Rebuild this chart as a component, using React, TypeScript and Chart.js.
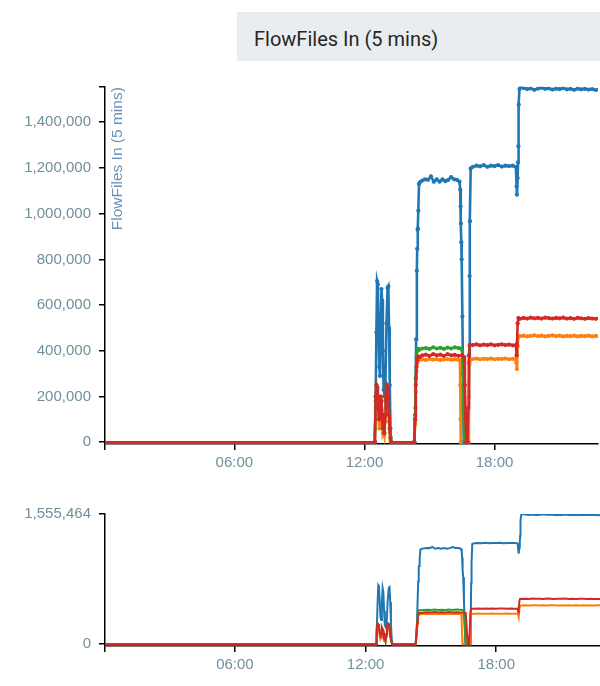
import { useEffect, useRef } from 'react';
import { Chart, registerables } from 'chart.js';

Chart.register(...registerables);

const CHART_TITLE = 'FlowFiles In (5 mins)';
const Y_MAX = 1555464;
const X_MIN = 2; // minutes since 00:00
const X_MAX = 1366;

const timeTickValues = [360, 720, 1080];
const timeTickLabels = ['06:00', '12:00', '18:00'];
const mainYTicks = [0, 200000, 400000, 600000, 800000, 1000000, 1200000, 1400000];
const overviewYTicks = [0, Y_MAX];

// [minute of day, flowfiles in last 5 mins]
const blueSeries: [number, number][] = [
  [0, 0], [748, 0], [751, 180000], [753, 480000], [755, 705000], [757, 690000], [759, 520000], [761, 330000],
  [763, 290000], [765, 480000], [767, 670000], [769, 620000], [771, 400000], [773, 230000], [776, 200000],
  [778, 260000], [781, 520000], [784, 675000], [786, 682000], [788, 500000], [790, 250000], [792, 60000], [794, 0],
  [858, 0], [861, 150000], [863, 450000], [865, 750000], [866, 846000], [867, 930000], [868, 935000],
  [869, 1013000], [871, 1130000],
  [874, 1138000], [880, 1145000], [888, 1150000], [896, 1148000], [904, 1163000], [912, 1140000], [920, 1150000],
  [928, 1140000], [936, 1150000], [944, 1142000], [952, 1148000], [960, 1160000], [968, 1150000], [976, 1148000],
  [983, 1140000],
  [985, 1105000], [986, 1032000], [987, 957000], [988, 875000], [989, 800000], [991, 550000], [993, 250000], [995, 0],
  [1008, 0], [1010, 350000], [1011, 727000], [1012, 967000], [1014, 1198000],
  [1020, 1205000], [1030, 1210000], [1040, 1207000], [1050, 1212000], [1060, 1205000], [1070, 1210000],
  [1080, 1208000], [1090, 1212000], [1100, 1206000], [1110, 1210000], [1120, 1208000], [1130, 1210000], [1139, 1205000],
  [1141, 1120000], [1142, 1083000], [1144, 1156000], [1145, 1225000], [1146, 1295000], [1147, 1477000], [1149, 1545000],
  [1152, 1555000], [1160, 1550000], [1170, 1545000], [1180, 1548000], [1190, 1542000], [1200, 1547000], [1210, 1551000],
  [1220, 1546000], [1230, 1548000], [1240, 1543000], [1250, 1547000], [1260, 1545000], [1270, 1549000],
  [1280, 1544000], [1290, 1546000], [1300, 1542000], [1310, 1547000], [1320, 1544000], [1330, 1546000],
  [1340, 1543000], [1350, 1545000], [1360, 1541000], [1370, 1544000],
];

const redSeries: [number, number][] = [
  [0, 0], [749, 0], [751, 200000], [753, 250000], [755, 240000], [757, 200000], [759, 150000], [761, 100000],
  [763, 120000], [765, 200000], [767, 180000], [769, 120000], [771, 60000], [773, 80000], [775, 40000],
  [777, 120000], [779, 200000], [781, 250000], [784, 240000], [786, 200000], [788, 120000], [790, 60000],
  [792, 20000], [794, 0],
  [858, 0], [860, 100000], [862, 250000], [864, 330000], [866, 360000], [869, 375000],
  [872, 372000], [880, 380000], [890, 383000], [900, 378000], [910, 385000], [920, 380000], [930, 383000],
  [940, 378000], [950, 385000], [960, 380000], [970, 382000], [980, 378000], [990, 380000], [996, 372000],
  [998, 250000], [1000, 100000], [1002, 0], [1005, 0], [1007, 150000], [1009, 380000], [1011, 425000],
  [1020, 425000], [1030, 428000], [1040, 424000], [1050, 427000], [1060, 425000], [1070, 428000], [1080, 424000],
  [1090, 426000], [1100, 428000], [1110, 425000], [1120, 427000], [1130, 424000], [1139, 425000],
  [1141, 380000], [1142, 430000], [1144, 520000], [1146, 543000],
  [1150, 540000], [1160, 544000], [1170, 541000], [1180, 545000], [1190, 542000], [1200, 544000], [1210, 541000],
  [1220, 545000], [1230, 543000], [1240, 541000], [1250, 544000], [1260, 542000], [1270, 545000], [1280, 541000],
  [1290, 543000], [1300, 540000], [1310, 544000], [1320, 542000], [1330, 540000], [1340, 543000], [1350, 541000],
  [1360, 540000], [1370, 542000],
];

const orangeSeries: [number, number][] = [
  [0, 0], [748, 0], [751, 150000], [753, 190000], [755, 180000], [757, 150000], [759, 100000], [761, 60000],
  [763, 80000], [765, 150000], [767, 140000], [769, 80000], [771, 40000], [773, 50000], [775, 30000],
  [777, 90000], [779, 150000], [781, 190000], [784, 180000], [786, 150000], [788, 90000], [790, 40000],
  [792, 10000], [794, 0],
  [858, 0], [860, 80000], [862, 220000], [864, 310000], [866, 345000], [869, 358000],
  [880, 362000], [890, 360000], [900, 364000], [910, 361000], [920, 363000], [930, 360000], [940, 362000],
  [950, 364000], [960, 361000], [970, 363000], [980, 360000], [984, 358000],
  [985, 250000], [986, 100000], [987, 0], [1008, 0], [1009, 200000], [1010, 340000], [1012, 362000],
  [1020, 364000], [1030, 366000], [1040, 363000], [1050, 365000], [1060, 364000], [1070, 366000], [1080, 363000],
  [1090, 365000], [1100, 364000], [1110, 366000], [1120, 363000], [1130, 365000], [1139, 364000],
  [1140, 350000], [1142, 320000], [1144, 420000], [1146, 462000],
  [1150, 464000], [1160, 466000], [1170, 463000], [1180, 465000], [1190, 467000], [1200, 464000], [1210, 466000],
  [1220, 463000], [1230, 465000], [1240, 467000], [1250, 464000], [1260, 466000], [1270, 463000], [1280, 465000],
  [1290, 464000], [1300, 466000], [1310, 463000], [1320, 465000], [1330, 464000], [1340, 466000], [1350, 463000],
  [1360, 465000], [1370, 464000],
];

const greenSeries: [number, number][] = [
  [0, 0], [749, 0], [751, 200000], [753, 250000], [755, 240000], [757, 200000], [759, 150000], [761, 100000],
  [763, 120000], [765, 200000], [767, 180000], [769, 120000], [771, 60000], [773, 80000], [775, 40000],
  [777, 120000], [779, 200000], [781, 250000], [784, 240000], [786, 200000], [788, 120000], [790, 60000],
  [792, 20000], [794, 0],
  [858, 0], [860, 120000], [862, 280000], [864, 370000], [866, 400000], [869, 408000],
  [872, 405000], [880, 410000], [890, 412000], [900, 408000], [910, 415000], [920, 410000], [930, 413000],
  [940, 408000], [950, 414000], [960, 410000], [970, 415000], [980, 412000], [988, 410000],
  [990, 405000], [992, 300000], [994, 150000], [996, 0], [1002, 0],
];

// drawn top-most first
const seriesList = [
  { name: 'Node A', color: '#d62728', points: redSeries },
  { name: 'Node B', color: '#2ca02c', points: greenSeries },
  { name: 'Node C', color: '#ff7f0e', points: orangeSeries },
  { name: 'Node D', color: '#1f77b4', points: blueSeries },
];

const TICK_COLOR = '#728e9b';
const Y_TITLE_COLOR = '#6a92b8';
const TICK_FONT = { family: '"Liberation Sans", Arial, sans-serif', size: 15 };

function buildConfig(main: boolean, height: number, areaTop: number, areaBottom: number): any {
  const yTicks = main ? [...mainYTicks, Y_MAX] : overviewYTicks;
  const plotHeight = areaBottom - areaTop;
  // keep the zero line just above the x axis, as in the original
  const yMin = -(1.8 / plotHeight) * Y_MAX;
  const plugins: any[] = [];
  if (main) {
    plugins.push({
      id: 'yTitle',
      afterDraw(chart: any) {
        const ctx = chart.ctx;
        ctx.save();
        ctx.translate(121.5, chart.chartArea.top + 0.5);
        ctx.rotate(-Math.PI / 2);
        ctx.textAlign = 'right';
        ctx.textBaseline = 'alphabetic';
        ctx.font = '15.5px "Liberation Sans", Arial, sans-serif';
        ctx.fillStyle = Y_TITLE_COLOR;
        ctx.fillText(CHART_TITLE, 0, 0);
        ctx.restore();
      },
    });
  }
  return {
    type: 'line',
    data: {
      datasets: seriesList.map((s) => ({
        label: s.name,
        data: s.points.map(([x, y]) => ({ x, y })),
        borderColor: s.color,
        backgroundColor: s.color,
        pointBackgroundColor: s.color,
        borderWidth: main ? 2.6 : 2,
        pointRadius: main ? 2.1 : 0,
        pointBorderWidth: 0,
        pointHoverRadius: 0,
        tension: 0,
        fill: false,
      })),
    },
    options: {
      animation: false,
      responsive: false,
      maintainAspectRatio: false,
      events: [],
      layout: { padding: { top: areaTop, left: 0, right: 0, bottom: 0 } },
      plugins: {
        legend: { display: false },
        tooltip: { enabled: false },
        title: { display: false },
      },
      scales: {
        x: {
          type: 'linear',
          min: X_MIN,
          max: X_MAX,
          afterFit: (s: any) => {
            s.height = height - areaBottom;
          },
          afterBuildTicks: (s: any) => {
            s.ticks = [X_MIN, ...timeTickValues].map((v) => ({ value: v }));
          },
          ticks: {
            autoSkip: false,
            maxRotation: 0,
            padding: 4,
            color: TICK_COLOR,
            font: TICK_FONT,
            callback: (v: any) => {
              const i = timeTickValues.indexOf(Number(v));
              return i >= 0 ? timeTickLabels[i] : '';
            },
          },
          grid: { display: true, drawOnChartArea: false, drawTicks: true, tickLength: 6, color: '#000', lineWidth: 1.5 },
          border: { display: true, color: '#000', width: 1.5 },
        },
        y: {
          type: 'linear',
          min: yMin,
          max: Y_MAX,
          afterFit: (s: any) => {
            s.width = 105;
          },
          afterBuildTicks: (s: any) => {
            s.ticks = yTicks.map((v) => ({ value: v }));
          },
          ticks: {
            autoSkip: false,
            padding: 8,
            color: TICK_COLOR,
            font: TICK_FONT,
            callback: (v: any) => {
              const n = Number(v);
              if (main && n === Y_MAX) return '';
              return n.toLocaleString('en-US');
            },
          },
          grid: { display: true, drawOnChartArea: false, drawTicks: true, tickLength: 6, color: '#000', lineWidth: 1.5 },
          border: { display: true, color: '#000', width: 1.5 },
        },
      },
    },
    plugins,
  };
}

function ChartCanvas(props: { main: boolean; top: number; height: number; areaTop: number; areaBottom: number }) {
  const ref = useRef<HTMLCanvasElement | null>(null);
  useEffect(() => {
    if (!ref.current) return;
    const chart = new Chart(ref.current, buildConfig(props.main, props.height, props.areaTop, props.areaBottom));
    return () => chart.destroy();
  }, []);
  return (
    <canvas
      ref={ref}
      width={600}
      height={props.height}
      style={{ position: 'absolute', left: 0, top: props.top, width: 600, height: props.height }}
    />
  );
}

export default function App() {
  return (
    <div style={{ position: 'absolute', left: 0, top: 0, width: 600, height: 686, overflow: 'hidden', background: '#fff' }}>
      <ChartCanvas main={true} top={0} height={480} areaTop={86.7} areaBottom={444} />
      <ChartCanvas main={false} top={480} height={206} areaTop={34} areaBottom={166} />
      <div
        style={{
          position: 'absolute',
          left: 237,
          top: 12,
          width: 363,
          height: 49,
          boxSizing: 'border-box',
          paddingLeft: 17,
          paddingTop: 3,
          lineHeight: '49px',
          background: '#eaedf0',
          color: '#262626',
          fontFamily: 'Roboto, "Noto Sans", sans-serif',
          fontSize: 20,
          whiteSpace: 'nowrap',
          overflow: 'hidden',
        }}
      >
        {CHART_TITLE}
      </div>
    </div>
  );
}
